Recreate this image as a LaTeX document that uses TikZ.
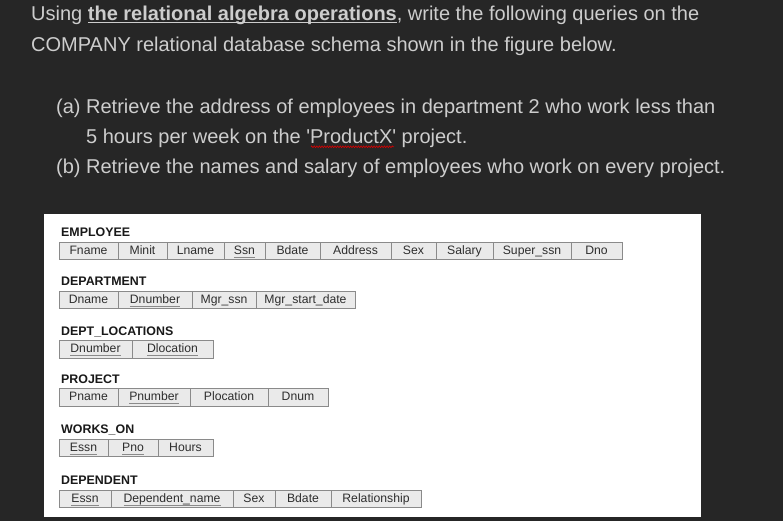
\documentclass[tikz,border=0pt]{standalone}
\usepackage{fontspec}
\setmainfont{Liberation Sans}
\usetikzlibrary{decorations.pathmorphing}
\definecolor{pagebg}{HTML}{262626}
\definecolor{qtext}{HTML}{CDCDCD}
\definecolor{cellfill}{HTML}{EAEAEA}
\definecolor{cellline}{HTML}{8A8A8A}
\definecolor{celltext}{HTML}{2E2E2E}
% underlined bold phrase in the question
\newcommand\headul[1]{\setbox0\hbox{#1}\rlap{\rule[-2.8pt]{\wd0}{1.3pt}}\box0}
% primary key attribute
\newcommand\pk[1]{\setbox0\hbox{#1}\rlap{\color{cellline}\rule[-3.2pt]{\wd0}{0.7pt}}\box0}

\begin{document}
\begin{tikzpicture}[x=1pt,y=-1pt,
	question/.style={anchor=base west,inner sep=0,text=qtext,font=\fontsize{20}{24}\selectfont},
	relname/.style={anchor=base west,inner sep=0,text=black!90,font=\fontsize{12.4}{14}\selectfont\bfseries},
	cell/.style={draw=cellline,fill=cellfill,text=celltext,inner sep=0,line width=0.8pt,
		minimum height=17.5pt,text height=8.8pt,text depth=2.6pt,font=\fontsize{12.2}{14}\selectfont}]
	\fill[pagebg] (0,0) rectangle (783,521);
	\useasboundingbox (0,0) rectangle (783,521);
	% the questions
	\node[question] (intro1) at (31,20.7) {Using \headul{\textbf{the relational algebra operations}}, write the following queries on the};
	\node[question] (intro2) at (31,51.7) {COMPANY relational database schema shown in the figure below.};
	\node[question] (qa1) at (56,114) {(a) Retrieve the address of employees in department 2 who work less than};
	\node[question] (qa2) at (86,144) {5 hours per week on the \textquotesingle ProductX\textquotesingle\ project.};
	\node[question] (qb) at (56,174) {(b) Retrieve the names and salary of employees who work on every project.};
	\draw[red!85!black,line width=0.6pt,decorate,decoration={zigzag,amplitude=0.9pt,segment length=2.6pt}]
		(311,146.8) -- (394,146.8);
	% the schema
	\fill[white] (44,214) rectangle (701,517);
	\node[relname] (employee) at (61,236.5) {EMPLOYEE};
	\foreach \a/\b/\attr in {59/118/Fname,118/167/Minit,167/224/Lname,224/265/\pk{Ssn},
		265/320/Bdate,320/391/Address,391/436/Sex,436/493/Salary,493/571/Super\_ssn,571/622/Dno}{
		\node[cell,minimum width={(\b-\a)*1pt}] (emp-\a) at ({(\a+\b)/2},251) {\attr};
	}
	\node[relname] (department) at (61,285.5) {DEPARTMENT};
	\foreach \a/\b/\attr in {59/118/Dname,118/192/\pk{Dnumber},192/256/Mgr\_ssn,256/355/Mgr\_start\_date}{
		\node[cell,minimum width={(\b-\a)*1pt}] (dept-\a) at ({(\a+\b)/2},300) {\attr};
	}
	\node[relname] (deptloc) at (61,335) {DEPT\_LOCATIONS};
	\foreach \a/\b/\attr in {59/132/\pk{Dnumber},132/213/\pk{Dlocation}}{
		\node[cell,minimum width={(\b-\a)*1pt}] (loc-\a) at ({(\a+\b)/2},349.5) {\attr};
	}
	\node[relname] (project) at (61,383) {PROJECT};
	\foreach \a/\b/\attr in {59/118/Pname,118/190/\pk{Pnumber},190/268/Plocation,268/328/Dnum}{
		\node[cell,minimum width={(\b-\a)*1pt}] (proj-\a) at ({(\a+\b)/2},397.5) {\attr};
	}
	\node[relname] (workson) at (61,433.5) {WORKS\_ON};
	\foreach \a/\b/\attr in {59/108/\pk{Essn},108/158/\pk{Pno},158/213/Hours}{
		\node[cell,minimum width={(\b-\a)*1pt}] (works-\a) at ({(\a+\b)/2},448) {\attr};
	}
	\node[relname] (dependent) at (61,484.5) {DEPENDENT};
	\foreach \a/\b/\attr in {59/111/\pk{Essn},111/233/\pk{Dependent\_name},233/275/Sex,
		275/331/Bdate,331/421/Relationship}{
		\node[cell,minimum width={(\b-\a)*1pt}] (dep-\a) at ({(\a+\b)/2},499) {\attr};
	}
\end{tikzpicture}
\end{document}
